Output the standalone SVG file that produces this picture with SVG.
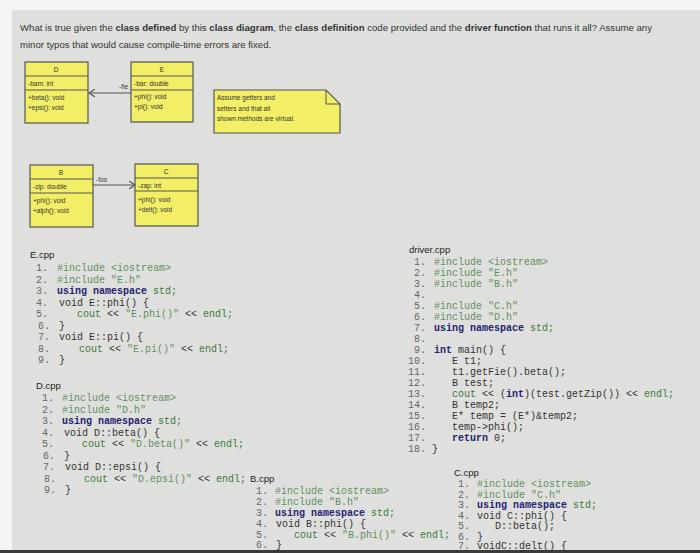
<svg xmlns="http://www.w3.org/2000/svg" width="700" height="553" viewBox="0 0 700 553">
<defs>
<style>
.t{font-family:"Liberation Sans",Arial,sans-serif;font-size:10.5px;fill:#333}
.t2{font-family:"Liberation Sans",Arial,sans-serif;font-size:9.6px;fill:#333}
.u{font-family:"Liberation Sans",Arial,sans-serif;font-size:6.5px;fill:#333}
.box{fill:#f2ee66;stroke:#555;stroke-width:1.2}
.ln{stroke:#555;stroke-width:1}
.h{font-family:"Liberation Sans",Arial,sans-serif;font-size:9.5px;fill:#222}
.c{font-family:"Liberation Mono","DejaVu Sans Mono",monospace;font-size:10px;fill:#333;white-space:pre}
.n{fill:#666}
.g{fill:#5f8f5f}
.k{fill:#22226e;font-weight:bold}
.s{fill:#3a7a3a}
.conn{stroke:#555;stroke-width:1.2;fill:none}
</style>
<marker id="open" markerWidth="8" markerHeight="8" refX="6" refY="4" orient="auto" markerUnits="userSpaceOnUse">
<path d="M0,0 L6,4 L0,8" fill="none" stroke="#555" stroke-width="1.2"/>
</marker>
</defs>
<rect width="700" height="553" fill="#f4f4f2"/>
<rect x="12" y="10" width="688" height="543" fill="#dfe0dd"/>
<rect x="0" y="550" width="700" height="3" fill="#3a3a3a"/>
<text class="t2" x="20" y="31">What is true given the <tspan font-weight="bold">class defined</tspan> by this <tspan font-weight="bold">class diagram</tspan>, the <tspan font-weight="bold">class definition</tspan> code provided and the <tspan font-weight="bold">driver function</tspan> that runs it all? Assume any</text>
<text class="t2" x="20" y="48">minor typos that would cause compile-time errors are fixed.</text>

<g id="D"><rect class="box" x="25" y="62" width="63" height="61"/><line class="ln" x1="25" y1="76" x2="88" y2="76"/><line class="ln" x1="25" y1="90" x2="88" y2="90"/>
<text class="u" x="56" y="72" text-anchor="middle">D</text><text class="u" x="28" y="86">-bam: int</text><text class="u" x="28" y="100">+beta(): void</text><text class="u" x="28" y="110">+epsi(): void</text></g>
<g id="E"><rect class="box" x="131" y="62" width="62" height="60"/><line class="ln" x1="131" y1="76" x2="193" y2="76"/><line class="ln" x1="131" y1="90" x2="193" y2="90"/>
<text class="u" x="162" y="72" text-anchor="middle">E</text><text class="u" x="134" y="86">-bar: double</text><text class="u" x="134" y="99">+phi(): void</text><text class="u" x="134" y="109">+pi(): void</text></g>
<g id="note"><path class="box" d="M214,90 L326,90 L340,104 L340,133 L214,133 Z"/><path class="ln" fill="none" d="M326,90 L326,104 L340,104"/>
<text class="u" x="217" y="100">Assume getters and</text><text class="u" x="217" y="111">setters and that all</text><text class="u" x="217" y="121">shown methods are virtual.</text></g>
<g id="B"><rect class="box" x="30" y="165" width="63" height="62"/><line class="ln" x1="30" y1="179" x2="93" y2="179"/><line class="ln" x1="30" y1="193" x2="93" y2="193"/>
<text class="u" x="61" y="175" text-anchor="middle">B</text><text class="u" x="33" y="189">-zip: double</text><text class="u" x="33" y="203">+phi(): void</text><text class="u" x="33" y="213">+alph(): void</text></g>
<g id="C"><rect class="box" x="135" y="164" width="63" height="62"/><line class="ln" x1="135" y1="178" x2="198" y2="178"/><line class="ln" x1="135" y1="191" x2="198" y2="191"/>
<text class="u" x="166" y="174" text-anchor="middle">C</text><text class="u" x="138" y="188">-zap: int</text><text class="u" x="138" y="202">+phi(): void</text><text class="u" x="138" y="212">+delt(): void</text></g>
<g id="connectors">
<line class="conn" x1="131" y1="93" x2="89" y2="93" marker-end="url(#open)"/>
<text class="u" x="119" y="89">-fie</text>
<line class="conn" x1="93" y1="185" x2="135" y2="185" marker-end="url(#open)"/>
<text class="u" x="96" y="182">-foo</text>
</g>

<g id="Ecpp">
<text class="h" x="30" y="258">E.cpp</text>
<text class="c" y="271"><tspan class="n" x="36">1.</tspan><tspan class="g" x="57">#include &lt;iostream&gt;</tspan></text>
<text class="c" y="282.5"><tspan class="n" x="36">2.</tspan><tspan class="g" x="57">#include "E.h"</tspan></text>
<text class="c" y="294"><tspan class="n" x="36">3.</tspan><tspan class="k" x="57">using namespace</tspan> <tspan class="s">std;</tspan></text>
<text class="c" y="305.5"><tspan class="n" x="36">4.</tspan><tspan x="59">void E::phi() {</tspan></text>
<text class="c" y="317"><tspan class="n" x="36">5.</tspan><tspan class="s" x="77">cout</tspan> &lt;&lt; <tspan class="g">"E.phi()"</tspan> &lt;&lt; <tspan class="s">endl;</tspan></text>
<text class="c" y="328.5"><tspan class="n" x="38">6.</tspan><tspan x="59">}</tspan></text>
<text class="c" y="340"><tspan class="n" x="38">7.</tspan><tspan x="59">void E::pi() {</tspan></text>
<text class="c" y="351.5"><tspan class="n" x="38">8.</tspan><tspan class="s" x="79">cout</tspan> &lt;&lt; <tspan class="g">"E.pi()"</tspan> &lt;&lt; <tspan class="s">endl;</tspan></text>
<text class="c" y="363"><tspan class="n" x="38">9.</tspan><tspan x="59">}</tspan></text>
</g>
<g id="Dcpp">
<text class="h" x="36" y="389">D.cpp</text>
<text class="c" y="401"><tspan class="n" x="42">1.</tspan><tspan class="g" x="62">#include &lt;iostream&gt;</tspan></text>
<text class="c" y="412.5"><tspan class="n" x="42">2.</tspan><tspan class="g" x="62">#include "D.h"</tspan></text>
<text class="c" y="424"><tspan class="n" x="42">3.</tspan><tspan class="k" x="62">using namespace</tspan> <tspan class="s">std;</tspan></text>
<text class="c" y="435.5"><tspan class="n" x="42">4.</tspan><tspan x="64">void D::beta() {</tspan></text>
<text class="c" y="447"><tspan class="n" x="42">5.</tspan><tspan class="s" x="82">cout</tspan> &lt;&lt; <tspan class="g">"D.beta()"</tspan> &lt;&lt; <tspan class="s">endl;</tspan></text>
<text class="c" y="458.5"><tspan class="n" x="43">6.</tspan><tspan x="64">}</tspan></text>
<text class="c" y="470"><tspan class="n" x="43">7.</tspan><tspan x="65">void D::epsi() {</tspan></text>
<text class="c" y="481.5"><tspan class="n" x="44">8.</tspan><tspan class="s" x="84">cout</tspan> &lt;&lt; <tspan class="g">"D.epsi()"</tspan> &lt;&lt; <tspan class="s">endl;</tspan></text>
<text class="c" y="493"><tspan class="n" x="44">9.</tspan><tspan x="65">}</tspan></text>
</g>
<g id="driver">
<text class="h" x="409" y="253">driver.cpp</text>
<text class="c" y="265"><tspan class="n" x="414">1.</tspan><tspan class="g" x="434">#include &lt;iostream&gt;</tspan></text>
<text class="c" y="276"><tspan class="n" x="414">2.</tspan><tspan class="g" x="434">#include "E.h"</tspan></text>
<text class="c" y="287"><tspan class="n" x="414">3.</tspan><tspan class="g" x="434">#include "B.h"</tspan></text>
<text class="c" y="298"><tspan class="n" x="414">4.</tspan></text>
<text class="c" y="309"><tspan class="n" x="414">5.</tspan><tspan class="g" x="434">#include "C.h"</tspan></text>
<text class="c" y="320"><tspan class="n" x="414">6.</tspan><tspan class="g" x="434">#include "D.h"</tspan></text>
<text class="c" y="331"><tspan class="n" x="414">7.</tspan><tspan class="k" x="434">using namespace</tspan> <tspan class="s">std;</tspan></text>
<text class="c" y="342"><tspan class="n" x="414">8.</tspan></text>
<text class="c" y="353"><tspan class="n" x="414">9.</tspan><tspan class="k" x="434">int</tspan> main() {</text>
<text class="c" y="364"><tspan class="n" x="408">10.</tspan><tspan x="452">E t1;</tspan></text>
<text class="c" y="375"><tspan class="n" x="408">11.</tspan><tspan x="452">t1.getFie().beta();</tspan></text>
<text class="c" y="386"><tspan class="n" x="408">12.</tspan><tspan x="452">B test;</tspan></text>
<text class="c" y="397"><tspan class="n" x="408">13.</tspan><tspan class="s" x="452">cout</tspan> &lt;&lt; (<tspan class="k">int</tspan>)(test.getZip()) &lt;&lt; <tspan class="s">endl;</tspan></text>
<text class="c" y="408"><tspan class="n" x="408">14.</tspan><tspan x="452">B temp2;</tspan></text>
<text class="c" y="419"><tspan class="n" x="408">15.</tspan><tspan x="452">E* temp = (E*)&amp;temp2;</tspan></text>
<text class="c" y="430"><tspan class="n" x="408">16.</tspan><tspan x="452">temp-&gt;phi();</tspan></text>
<text class="c" y="441"><tspan class="n" x="408">17.</tspan><tspan class="k" x="452">return</tspan> 0;</text>
<text class="c" y="452"><tspan class="n" x="408">18.</tspan><tspan x="432">}</tspan></text>
</g>
<g id="Bcpp">
<text class="h" x="250" y="482">B.cpp</text>
<text class="c" y="493.5"><tspan class="n" x="256">1.</tspan><tspan class="g" x="275">#include &lt;iostream&gt;</tspan></text>
<text class="c" y="504.5"><tspan class="n" x="256">2.</tspan><tspan class="g" x="275">#include "B.h"</tspan></text>
<text class="c" y="515.5"><tspan class="n" x="256">3.</tspan><tspan class="k" x="275">using namespace</tspan> <tspan class="s">std;</tspan></text>
<text class="c" y="526.5"><tspan class="n" x="256">4.</tspan><tspan x="276">void B::phi() {</tspan></text>
<text class="c" y="537.5"><tspan class="n" x="256">5.</tspan><tspan class="s" x="294">cout</tspan> &lt;&lt; <tspan class="g">"B.phi()"</tspan> &lt;&lt; <tspan class="s">endl;</tspan></text>
<text class="c" y="548"><tspan class="n" x="256">6.</tspan><tspan x="276">}</tspan></text>
</g>
<g id="Ccpp">
<text class="h" x="454" y="476">C.cpp</text>
<text class="c" y="487"><tspan class="n" x="458">1.</tspan><tspan class="g" x="477">#include &lt;iostream&gt;</tspan></text>
<text class="c" y="497.5"><tspan class="n" x="458">2.</tspan><tspan class="g" x="477">#include "C.h"</tspan></text>
<text class="c" y="508"><tspan class="n" x="458">3.</tspan><tspan class="k" x="477">using namespace</tspan> <tspan class="s">std;</tspan></text>
<text class="c" y="518.5"><tspan class="n" x="458">4.</tspan><tspan x="477">void C::phi() {</tspan></text>
<text class="c" y="529"><tspan class="n" x="458">5.</tspan><tspan x="495">D::beta();</tspan></text>
<text class="c" y="539.5"><tspan class="n" x="458">6.</tspan><tspan x="477">}</tspan></text>
<text class="c" y="549"><tspan class="n" x="458">7.</tspan><tspan x="477">voidC::delt() {</tspan></text>
</g>
</svg>
